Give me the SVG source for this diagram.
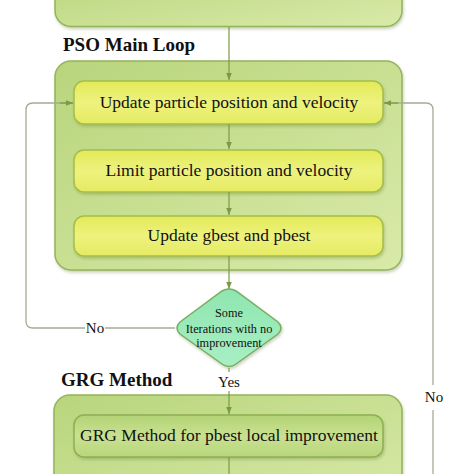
<svg xmlns="http://www.w3.org/2000/svg" width="474" height="474" viewBox="0 0 474 474">
<defs>
<linearGradient id="gc" x1="0" y1="0" x2="1" y2="1">
<stop offset="0" stop-color="#b8d57c"/>
<stop offset="1" stop-color="#d9eaa9"/>
</linearGradient>
<linearGradient id="gy" x1="0" y1="0" x2="0" y2="1">
<stop offset="0" stop-color="#e2ea58"/>
<stop offset="0.5" stop-color="#eef27e"/>
<stop offset="1" stop-color="#e4eb62"/>
</linearGradient>
<linearGradient id="gg" x1="0" y1="0" x2="0" y2="1">
<stop offset="0" stop-color="#b3d376"/>
<stop offset="0.5" stop-color="#c9e190"/>
<stop offset="1" stop-color="#b8d67c"/>
</linearGradient>
<linearGradient id="gd" x1="0" y1="0" x2="0" y2="1">
<stop offset="0" stop-color="#8fe6b0"/>
<stop offset="1" stop-color="#a8efc4"/>
</linearGradient>
<filter id="sh" x="-10%" y="-10%" width="120%" height="130%">
<feDropShadow dx="1" dy="2" stdDeviation="1.5" flood-color="#6a7f40" flood-opacity="0.35"/>
</filter>
<marker id="ar" viewBox="0 0 10 10" refX="10" refY="5" markerWidth="7" markerHeight="7" orient="auto-start-reverse" markerUnits="userSpaceOnUse">
<path d="M0,1 L10,5 L0,9 z" fill="#7c9a44"/>
</marker>
</defs>
<style>
.cont{fill:url(#gc);stroke:#93b45a;stroke-width:1.5;filter:url(#sh)}
.box{fill:url(#gy);stroke:#a5bd48;stroke-width:1.5;filter:url(#sh)}
.gbox{fill:url(#gg);stroke:#8db052;stroke-width:1.5;filter:url(#sh)}
.t{font-family:"Liberation Serif","Times New Roman",serif;fill:#111;text-anchor:middle}
.bt{font-size:17.5px}
.hd{font-family:"Liberation Serif","Times New Roman",serif;font-weight:bold;font-size:19px;fill:#111}
.dt{font-size:12.3px}
.lb{font-size:15px}
.c{fill:none;stroke:#7c9a44;stroke-width:1.2}
.lp{fill:none;stroke:#a3ad94;stroke-width:1.3}
</style>
<rect width="474" height="474" fill="#fff"/>

<g id="init-container">
<rect class="cont" x="55" y="-30" width="347" height="56.5" rx="16"/>
</g>

<g id="pso-label"><text class="hd" x="63" y="51">PSO Main Loop</text></g>
<g id="pso-container">
<rect class="cont" x="55" y="61" width="347" height="209" rx="16"/>
</g>

<g id="update-pos">
<rect class="box" x="74" y="81" width="309" height="43" rx="10"/>
<text class="t bt" x="229" y="108">Update particle position and velocity</text>
</g>
<g id="limit-pos">
<rect class="box" x="74" y="150" width="309" height="42" rx="10"/>
<text class="t bt" x="229" y="176">Limit particle position and velocity</text>
</g>
<g id="update-best">
<rect class="box" x="74" y="216" width="309" height="40" rx="10"/>
<text class="t bt" x="229" y="241">Update gbest and pbest</text>
</g>

<g id="decision">
<path d="M222,291 Q229,287 236,291 L278,322 Q284,328 278,334 L236,364 Q229,369 222,364 L180,334 Q174,328 180,322 Z" fill="url(#gd)" stroke="#79ad63" stroke-width="1.5" filter="url(#sh)"/>
<text class="t dt" x="229" y="317">Some</text>
<text class="t dt" x="229" y="333">Iterations with no</text>
<text class="t dt" x="229" y="347">improvement</text>
</g>

<g id="grg-label"><text class="hd" x="61" y="386">GRG Method</text></g>
<g id="grg-container">
<rect class="cont" x="54" y="395" width="348" height="120" rx="16"/>
</g>
<g id="grg-box">
<rect class="gbox" x="74" y="415" width="309" height="42" rx="10"/>
<text class="t bt" x="229" y="441">GRG Method for pbest local improvement</text>
</g>

<g id="connectors">
<line class="c" x1="229" y1="27" x2="229" y2="80" marker-end="url(#ar)"/>
<line class="c" x1="229" y1="124" x2="229" y2="149" marker-end="url(#ar)"/>
<line class="c" x1="229" y1="192" x2="229" y2="215" marker-end="url(#ar)"/>
<line class="c" x1="229" y1="256" x2="229" y2="289" marker-end="url(#ar)"/>
<line class="c" x1="229" y1="368" x2="229" y2="372"/>
<line class="c" x1="229" y1="391" x2="229" y2="414" marker-end="url(#ar)"/>
<line class="c" x1="229" y1="457" x2="229" y2="474"/>
<path class="lp" d="M175,328 L105,328"/>
<path class="lp" d="M85,328 L33,328 Q26,328 26,321 L26,110 Q26,103 33,103 L73,103" />
<line class="c" x1="60" y1="103" x2="73" y2="103" marker-end="url(#ar)"/>
<path class="lp" d="M433,474 L433,410"/>
<path class="lp" d="M433,385 L433,110 Q433,103 426,103 L384,103"/>
<line class="c" x1="398" y1="103" x2="384" y2="103" marker-end="url(#ar)"/>
<text class="t lb" x="95" y="333">No</text>
<text class="t lb" x="229" y="387">Yes</text>
<text class="t lb" x="434" y="402">No</text>
</g>
</svg>
